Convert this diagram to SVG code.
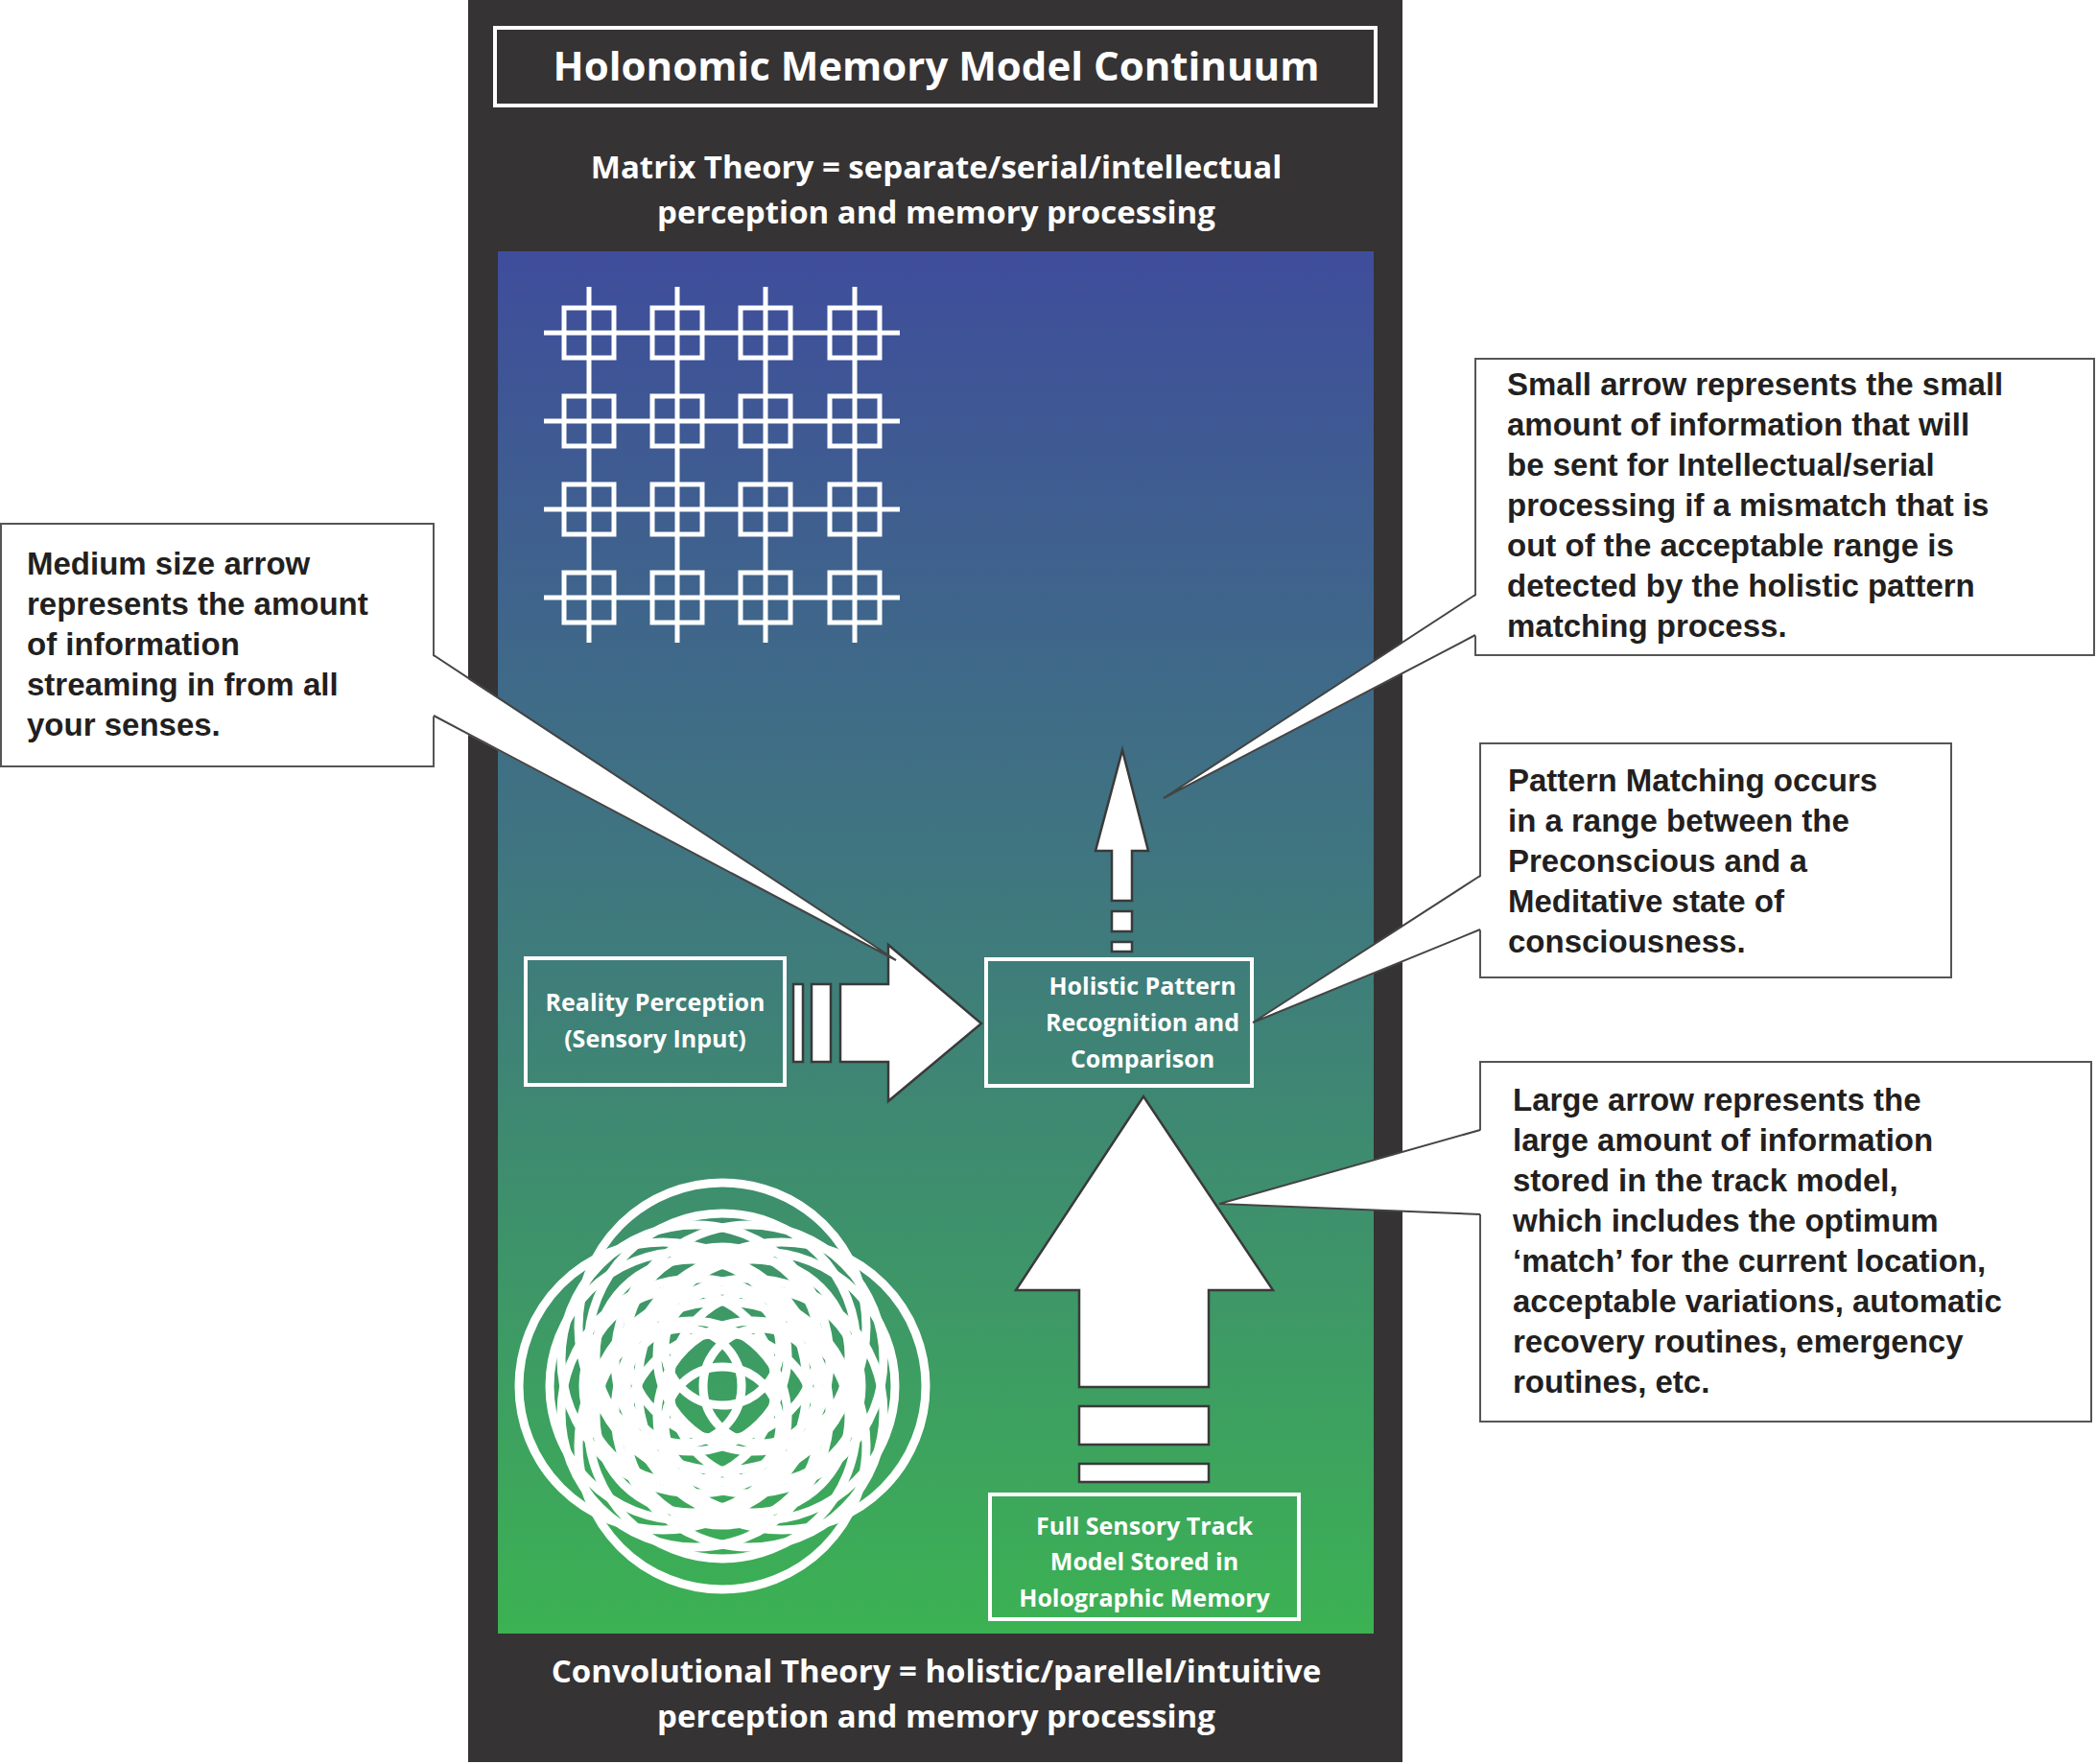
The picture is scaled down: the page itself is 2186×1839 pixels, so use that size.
<svg xmlns="http://www.w3.org/2000/svg" width="2186" height="1839" viewBox="0 0 2186 1839">
<defs>
<linearGradient id="bg" x1="0" y1="0" x2="0" y2="1">
<stop offset="0" stop-color="#3f4d9c"/><stop offset="0.5" stop-color="#3f7b7c"/><stop offset="1" stop-color="#3cb253"/>
</linearGradient>
<g id="cell"><rect x="-26" y="-26" width="52" height="52" fill="none" stroke="#fff" stroke-width="5"/></g>
</defs>
<style>
.ttl{font-family:"Open Sans","Liberation Sans",sans-serif;font-weight:bold;fill:#fff;text-anchor:middle}
.nd{font-family:"Open Sans","Liberation Sans",sans-serif;font-weight:bold;fill:#fff;text-anchor:middle;font-size:25px}
.nbox{fill:none;stroke:#fff;stroke-width:4}
.co{font-family:"Liberation Sans",Arial,sans-serif;font-weight:bold;fill:#231f20;font-size:33px}
.cbox{fill:#fff;stroke:#555;stroke-width:2}
.ptr{fill:#fff;stroke:none}
.pl{stroke:#444;stroke-width:2;fill:none}
.arw{fill:#fff;stroke:#3a3a3a;stroke-width:2.5}
.g{stroke:#fff;stroke-width:5}
.ring{fill:none;stroke:#fff;stroke-width:9}
</style>
<rect x="488" y="0" width="974" height="1837" fill="#353334"/>
<rect x="519" y="262" width="913" height="1441" fill="url(#bg)"/>
<g id="title">
<rect x="516" y="29" width="918" height="81" fill="none" stroke="#fff" stroke-width="4"/>
<text class="ttl" x="976" y="84" font-size="42">Holonomic Memory Model Continuum</text>
</g>
<g id="matrix-label">
<text class="ttl" x="976" y="186" font-size="33">Matrix Theory = separate/serial/intellectual</text>
<text class="ttl" x="976" y="233" font-size="33">perception and memory processing</text>
</g>
<g id="convolution-label">
<text class="ttl" x="976" y="1754" font-size="33">Convolutional Theory = holistic/parellel/intuitive</text>
<text class="ttl" x="976" y="1801" font-size="33">perception and memory processing</text>
</g>
<g id="matrix-grid">
<line class="g" x1="567" y1="347" x2="938" y2="347"/><line class="g" x1="567" y1="439" x2="938" y2="439"/>
<line class="g" x1="567" y1="531" x2="938" y2="531"/><line class="g" x1="567" y1="623" x2="938" y2="623"/>
<line class="g" x1="614" y1="299" x2="614" y2="670"/><line class="g" x1="706" y1="299" x2="706" y2="670"/>
<line class="g" x1="798" y1="299" x2="798" y2="670"/><line class="g" x1="891" y1="299" x2="891" y2="670"/>
<use href="#cell" x="614" y="347"/><use href="#cell" x="706" y="347"/><use href="#cell" x="798" y="347"/><use href="#cell" x="891" y="347"/>
<use href="#cell" x="614" y="439"/><use href="#cell" x="706" y="439"/><use href="#cell" x="798" y="439"/><use href="#cell" x="891" y="439"/>
<use href="#cell" x="614" y="531"/><use href="#cell" x="706" y="531"/><use href="#cell" x="798" y="531"/><use href="#cell" x="891" y="531"/>
<use href="#cell" x="614" y="623"/><use href="#cell" x="706" y="623"/><use href="#cell" x="798" y="623"/><use href="#cell" x="891" y="623"/>
</g>
<g id="holo-rings" transform="translate(753,1445)">
<circle class="ring" cx="0" cy="-62" r="150" fill="#353334"/><circle class="ring" cx="0" cy="62" r="150" fill="#353334"/>
<circle class="ring" cx="-62" cy="0" r="150" fill="#353334"/><circle class="ring" cx="62" cy="0" r="150" fill="#353334"/>
<circle class="ring" cx="0" cy="-40" r="140" fill="#3f9a66"/><circle class="ring" cx="0" cy="40" r="140" fill="#3f9a66"/>
<circle class="ring" cx="-40" cy="0" r="140"/><circle class="ring" cx="40" cy="0" r="140"/>
<circle class="ring" cx="-28" cy="-28" r="140"/><circle class="ring" cx="28" cy="28" r="140"/>
<circle class="ring" cx="28" cy="-28" r="140"/><circle class="ring" cx="-28" cy="28" r="140"/>
<circle class="ring" cx="0" cy="-45" r="100"/><circle class="ring" cx="0" cy="45" r="100"/>
<circle class="ring" cx="-45" cy="0" r="100"/><circle class="ring" cx="45" cy="0" r="100"/>
<circle class="ring" cx="-32" cy="-32" r="100"/><circle class="ring" cx="32" cy="32" r="100"/>
<circle class="ring" cx="32" cy="-32" r="100"/><circle class="ring" cx="-32" cy="32" r="100"/>
<circle class="ring" cx="0" cy="-40" r="60"/><circle class="ring" cx="0" cy="40" r="60"/>
<circle class="ring" cx="-40" cy="0" r="60"/><circle class="ring" cx="40" cy="0" r="60"/>
</g>
<g id="connectors">
<g id="medium-arrow">
<rect class="arw" x="827" y="1026" width="10" height="81"/>
<rect class="arw" x="846" y="1026" width="20" height="81"/>
<polygon class="arw" points="876,1026 926,1026 926,985 1023,1067 926,1148 926,1107 876,1107"/>
</g>
<g id="small-arrow">
<rect class="arw" x="1159" y="982" width="21" height="10"/>
<rect class="arw" x="1159" y="950" width="21" height="21"/>
<polygon class="arw" points="1159,939 1159,887 1142,887 1170,782 1197,887 1180,887 1180,939"/>
</g>
<g id="large-arrow">
<rect class="arw" x="1125" y="1526" width="135" height="19"/>
<rect class="arw" x="1125" y="1466" width="135" height="40"/>
<polygon class="arw" points="1125,1446 1125,1345 1059,1345 1192,1143 1327,1345 1260,1345 1260,1446"/>
</g>
</g>
<g id="reality-perception">
<rect class="nbox" x="548" y="999" width="270" height="132"/>
<text class="nd" x="683" y="1054">Reality Perception</text>
<text class="nd" x="683" y="1092">(Sensory Input)</text>
</g>
<g id="holistic">
<rect class="nbox" x="1028" y="1000" width="277" height="132"/>
<text class="nd" x="1191" y="1037">Holistic Pattern</text>
<text class="nd" x="1191" y="1075">Recognition and</text>
<text class="nd" x="1191" y="1113">Comparison</text>
</g>
<g id="full-sensory">
<rect class="nbox" x="1032" y="1558" width="322" height="130"/>
<text class="nd" x="1193" y="1600">Full Sensory Track</text>
<text class="nd" x="1193" y="1637">Model Stored in</text>
<text class="nd" x="1193" y="1675">Holographic Memory</text>
</g>
<g id="callout-medium">
<rect class="cbox" x="1" y="546" width="451" height="253"/>
<polygon class="ptr" points="450,683 934,1001 450,746"/>
<polyline class="pl" points="452,683 934,1001 452,746"/>
<text class="co" x="28" y="599">Medium size arrow</text>
<text class="co" x="28" y="641">represents the amount</text>
<text class="co" x="28" y="683">of information</text>
<text class="co" x="28" y="725">streaming in from all</text>
<text class="co" x="28" y="767">your senses.</text>
</g>
<g id="callout-small">
<rect class="cbox" x="1538" y="374" width="645" height="309"/>
<polygon class="ptr" points="1540,620 1213,832 1540,662"/>
<polyline class="pl" points="1538,620 1213,832 1538,662"/>
<text class="co" x="1571" y="412">Small arrow represents the small</text>
<text class="co" x="1571" y="454">amount of information that will</text>
<text class="co" x="1571" y="496">be sent for Intellectual/serial</text>
<text class="co" x="1571" y="538">processing if a mismatch that is</text>
<text class="co" x="1571" y="580">out of the acceptable range is</text>
<text class="co" x="1571" y="622">detected by the holistic pattern</text>
<text class="co" x="1571" y="664">matching process.</text>
</g>
<g id="callout-pattern">
<rect class="cbox" x="1543" y="775" width="491" height="244"/>
<polygon class="ptr" points="1545,913 1306,1066 1545,969"/>
<polyline class="pl" points="1543,913 1306,1066 1543,969"/>
<text class="co" x="1572" y="825">Pattern Matching occurs</text>
<text class="co" x="1572" y="867">in a range between the</text>
<text class="co" x="1572" y="909">Preconscious and a</text>
<text class="co" x="1572" y="951">Meditative state of</text>
<text class="co" x="1572" y="993">consciousness.</text>
</g>
<g id="callout-large">
<rect class="cbox" x="1543" y="1107" width="637" height="375"/>
<polygon class="ptr" points="1545,1178 1271,1255 1545,1266"/>
<polyline class="pl" points="1543,1178 1271,1255 1543,1266"/>
<text class="co" x="1577" y="1158">Large arrow represents the</text>
<text class="co" x="1577" y="1200">large amount of information</text>
<text class="co" x="1577" y="1242">stored in the track model,</text>
<text class="co" x="1577" y="1284">which includes the optimum</text>
<text class="co" x="1577" y="1326">‘match’ for the current location,</text>
<text class="co" x="1577" y="1368">acceptable variations, automatic</text>
<text class="co" x="1577" y="1410">recovery routines, emergency</text>
<text class="co" x="1577" y="1452">routines, etc.</text>
</g>
</svg>
